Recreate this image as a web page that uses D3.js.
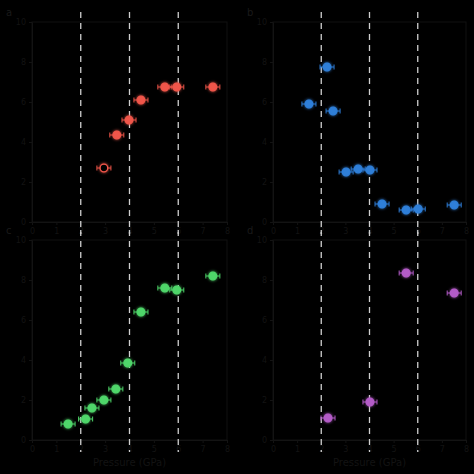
<!DOCTYPE html>
<html><head><meta charset="utf-8">
<script src="https://cdn.jsdelivr.net/npm/d3@7"></script>
<style>body{margin:0;background:#000}</style></head>
<body><div id="chart"></div>
<script>
const panelNames = ["a", "b", "c", "d"];
const colors = ["#f0564a", "#2f7fd8", "#4fd66a", "#b45cc8"];
const xA = [2.95, 3.48, 3.98, 4.47, 5.45, 5.94, 7.42];
const yA = [2.7, 4.35, 5.1, 6.1, 6.75, 6.75, 6.75];
const xB = [2.24, 1.49, 2.49, 3.03, 3.53, 4.02, 4.52, 5.52, 6.02, 7.51];
const yB = [7.75, 5.9, 5.55, 2.5, 2.65, 2.6, 0.9, 0.6, 0.65, 0.85];
const xC = [1.48, 2.2, 2.46, 2.95, 3.44, 3.93, 4.47, 5.45, 5.94, 7.42];
const yC = [0.8, 1.05, 1.6, 2.0, 2.55, 3.85, 6.4, 7.6, 7.5, 8.2];
const xD = [2.28, 4.02, 5.52, 7.51];
const yD = [1.1, 1.9, 8.35, 7.35];
const xTicks = [0, 1, 2, 3, 4, 5, 6, 7, 8];
const refLines = [2, 4, 6];
const xLabels = ["Pressure (GPa)", "Pressure (GPa)"];

const svg = d3.select("#chart").append("svg")
    .attr("width", 474).attr("height", 474)
    .style("background", "#000");

const panels = [
  {x: xA, y: yA, l: 32, t: 22, open: [0]},
  {x: xB, y: yB, l: 273, t: 22, open: []},
  {x: xC, y: yC, l: 32, t: 240, open: []},
  {x: xD, y: yD, l: 273, t: 240, open: []}
];
const faint = "#131313";

panels.forEach((p, k) => {
  const w = k % 2 ? 193 : 195;
  const xs = d3.scaleLinear().domain([0, 8]).range([p.l, p.l + w]);
  const ys = d3.scaleLinear().domain([0, 10]).range([p.t + 200, p.t]);
  const g = svg.append("g");
  g.append("rect").attr("x", p.l).attr("y", p.t).attr("width", w).attr("height", 200)
    .attr("fill", "none").attr("stroke", "#111");
  const ax = g.append("g").attr("transform", `translate(0,${p.t + 200})`)
    .call(d3.axisBottom(xs).tickValues(xTicks).tickSize(3));
  const ay = g.append("g").attr("transform", `translate(${p.l},0)`)
    .call(d3.axisLeft(ys).ticks(5).tickSize(3));
  [ax, ay].forEach(a => {
    a.selectAll("path,line").attr("stroke", faint);
    a.selectAll("text").attr("fill", faint).attr("font-size", 8).attr("font-family", "DejaVu Sans");
  });
  g.append("text").attr("x", p.l - 26).attr("y", p.t - 6).text(panelNames[k])
    .attr("fill", "#1a1a1a").attr("font-size", 10).attr("font-family", "DejaVu Sans");
  if (k >= 2) g.append("text").attr("x", p.l + w / 2).attr("y", p.t + 226)
    .attr("text-anchor", "middle").text(xLabels[k - 2])
    .attr("fill", faint).attr("font-size", 10).attr("font-family", "DejaVu Sans");
  g.selectAll(".ref").data(refLines).join("line")
    .attr("x1", d => xs(d)).attr("x2", d => xs(d))
    .attr("y1", p.t - 10).attr("y2", p.t + 212)
    .attr("stroke", "#cfcfcf").attr("stroke-width", 1.3).attr("stroke-dasharray", "6,5");
  const pts = p.x.map((v, i) => ({x: v, y: p.y[i], open: p.open.includes(i)}));
  g.selectAll(".err").data(pts).join("line")
    .attr("x1", d => xs(d.x) - 7).attr("x2", d => xs(d.x) + 7)
    .attr("y1", d => ys(d.y)).attr("y2", d => ys(d.y))
    .attr("stroke", colors[k]).attr("stroke-width", 1);
  pts.forEach(d => {
    [-7, 7].forEach(o => g.append("line")
      .attr("x1", xs(d.x) + o).attr("x2", xs(d.x) + o)
      .attr("y1", ys(d.y) - 2.5).attr("y2", ys(d.y) + 2.5)
      .attr("stroke", colors[k]).attr("stroke-width", 1));
  });
  g.selectAll(".pt").data(pts).join("circle")
    .attr("cx", d => xs(d.x)).attr("cy", d => ys(d.y)).attr("r", 3.8)
    .attr("fill", d => d.open ? "#000" : colors[k])
    .attr("stroke", colors[k]).attr("stroke-width", 1.3)
    .style("filter", `drop-shadow(0 0 1.5px ${colors[k]})`);
});
</script></body></html>
